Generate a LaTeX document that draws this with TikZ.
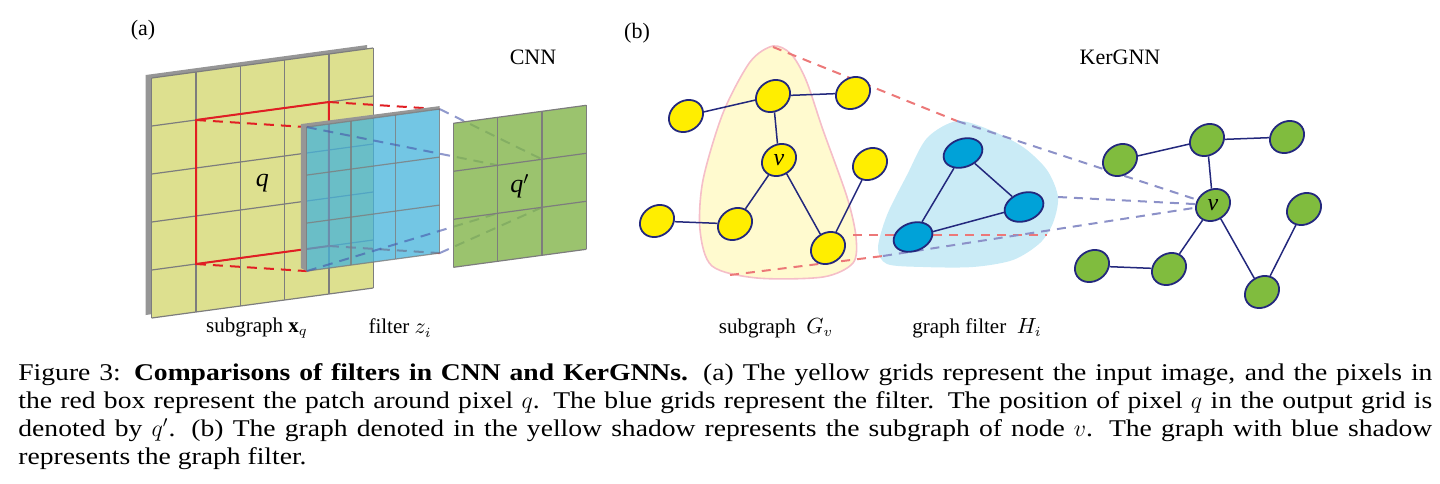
\documentclass[tikz,border=0pt]{standalone}
\usepackage{fontspec}
\setmainfont{Liberation Serif}
\newfontfamily\capfont[FakeStretch=1.15]{Liberation Serif}
\usetikzlibrary{shapes.geometric}

\definecolor{gridyellow}{RGB}{221,224,143}
\definecolor{gridgreen}{RGB}{130,180,74}
\definecolor{filterblue}{RGB}{68,179,219}
\definecolor{slabgray}{RGB}{150,150,150}
\definecolor{gridgray}{RGB}{125,125,125}
\definecolor{boxred}{RGB}{225,30,35}
\definecolor{dashblue}{RGB}{70,85,170}
\definecolor{shadowred}{RGB}{236,120,120}
\definecolor{shadowblue}{RGB}{140,145,200}
\definecolor{blobyellow}{RGB}{255,250,207}
\definecolor{blobpink}{RGB}{245,190,200}
\definecolor{blobblue}{RGB}{202,235,246}
\definecolor{nodeyellow}{RGB}{255,238,0}
\definecolor{nodegreen}{RGB}{128,188,62}
\definecolor{nodeblue}{RGB}{0,162,216}
\definecolor{navy}{RGB}{35,40,125}

\tikzset{
  panellabel/.style={font=\fontsize{11}{13}\selectfont, inner sep=1pt},
  titlelabel/.style={font=\fontsize{11}{13}\selectfont, inner sep=1pt},
  sublabel/.style={font=\fontsize{10.5}{12}\selectfont, inner sep=1pt},
  slab/.style={fill=slabgray},
  gridline/.style={draw=gridgray, line width=0.6pt},
  redbox/.style={draw=boxred, line width=1pt},
  reddash/.style={draw=boxred, line width=1pt, dash pattern=on 5pt off 3.5pt},
  bluedash/.style={draw=dashblue, line width=1pt, draw opacity=0.6, dash pattern=on 5pt off 3.5pt},
  pinkdash/.style={draw=shadowred, line width=1pt, dash pattern=on 4.5pt off 3.5pt},
  purpledash/.style={draw=shadowblue, line width=1pt, dash pattern=on 4.5pt off 3.5pt},
  gnode/.style={ellipse, draw=navy, line width=0.9pt, inner sep=0pt, minimum width=18pt, minimum height=15pt},
  ynode/.style={gnode, fill=nodeyellow, rotate=35},
  grnode/.style={gnode, fill=nodegreen, rotate=35},
  bnode/.style={gnode, fill=nodeblue, minimum width=20pt, minimum height=14pt, rotate=20},
  vlabel/.style={font=\fontsize{12}{12}\selectfont\itshape, inner sep=0pt},
  edge/.style={draw=navy, line width=0.75pt},
  caption/.style={font=\capfont\fontsize{12}{14}\selectfont, align=left, inner sep=0pt}
}

\begin{document}
\begin{tikzpicture}[x=0.5pt, y=-0.5pt]
\useasboundingbox (0,0) rectangle (1440,483);

% (a) CNN
\node[panellabel] (la) at (143,30) {(a)};
\node[titlelabel] (cnn) at (533,57) {CNN};

\begin{scope}[shift={(151.7,318)}, x={(44.3,-6)}, y={(0,-48)}]
  % input image
  \fill[slab, xshift=-3pt, yshift=1.5pt] (0,0) -- (5,0) -- (5,5) -- (0,5) -- cycle;
  \fill[gridyellow] (0,0) -- (5,0) -- (5,5) -- (0,5) -- cycle;
  \foreach \i in {0,...,5} {
    \draw[gridline] (\i,0) -- (\i,5);
    \draw[gridline] (0,\i) -- (5,\i);
  }
  \coordinate (rBL) at (1,1);
  \coordinate (rBR) at (4,1);
  \coordinate (rTR) at (4,4);
  \coordinate (rTL) at (1,4);
  \coordinate (fBL) at (3.5,0.54);
  \coordinate (fBR) at (6.5,0.54);
  \coordinate (fTR) at (6.5,3.54);
  \coordinate (fTL) at (3.5,3.54);
  \coordinate (oBL) at (7.81,1.205);
  \coordinate (oBR) at (8.81,1.205);
  \coordinate (oTR) at (8.81,2.205);
  \coordinate (oTL) at (7.81,2.205);
  \node[font=\fontsize{13}{13}\selectfont\itshape] (q) at (2.5,2.5) {q};
  \draw[redbox] (rBL) -- (rBR) -- (rTR) -- (rTL) -- cycle;
  \foreach \c in {BL,BR,TR,TL}
    \draw[reddash] (r\c) -- (f\c);
  % filter
  \fill[slab] (fBL) -- ([xshift=-3pt,yshift=1.5pt]fBL) -- ([xshift=-3pt,yshift=1.5pt]fTL)
    -- ([yshift=1.5pt]fTR) -- (fTR) -- (fTL) -- cycle;
  \begin{scope}[shift={(3.5,0.54)}]
    \fill[filterblue, opacity=0.75] (0,0) -- (3,0) -- (3,3) -- (0,3) -- cycle;
    \foreach \i in {0,...,3} {
      \draw[gridline, draw opacity=0.8] (\i,0) -- (\i,3);
      \draw[gridline, draw opacity=0.8] (0,\i) -- (3,\i);
    }
  \end{scope}
  \foreach \c in {BL,BR,TR,TL}
    \draw[bluedash] (f\c) -- (o\c);
  % output
  \begin{scope}[shift={(6.81,0.205)}]
    \fill[gridgreen, opacity=0.8] (0,0) -- (3,0) -- (3,3) -- (0,3) -- cycle;
    \foreach \i in {0,...,3} {
      \draw[gridline] (\i,0) -- (\i,3);
      \draw[gridline] (0,\i) -- (3,\i);
    }
  \end{scope}
  \node[font=\fontsize{13}{13}\selectfont\itshape] (qp) at (8.31,1.705) {q$'$};
\end{scope}

\node[sublabel] (xq) at (257,328) {subgraph $\mathbf{x}_q$};
\node[sublabel] (zi) at (400,328) {filter $z_i$};

% (b) KerGNN
\node[panellabel] (lb) at (637,33) {(b)};
\node[titlelabel] (kergnn) at (1120,57) {KerGNN};

\draw[draw=blobpink, fill=blobyellow, line width=0.8pt] plot[smooth cycle] coordinates {
  (773,46) (791,54) (806,80) (823,130) (847,197) (856,237) (853,263) (823,277)
  (757,278) (712,266) (700,230) (703,180) (723,113) (750,62)};
\fill[blobblue] plot[smooth cycle] coordinates {
  (957,121) (990,130) (1023,147) (1047,170) (1058,197) (1053,223) (1040,243) (1013,260)
  (973,267) (923,267) (887,264) (878,248) (887,215) (907,175) (927,138)};

\coordinate (ytop) at (773,47);
\coordinate (ybot) at (730,275);
\coordinate (yright) at (853,235);
\coordinate (btop) at (957,121);
\coordinate (bbot) at (883,256);
\coordinate (bright) at (1047,235);
\coordinate (bside) at (1058,197);
\coordinate (gvc) at (1213,205);

\draw[pinkdash] (ytop) -- (btop);
\draw[pinkdash] (ybot) -- (bbot);
\draw[pinkdash] (yright) -- (bright);
\draw[purpledash] (btop) -- (gvc);
\draw[purpledash] (bside) -- (gvc);
\draw[purpledash] (bbot) -- (gvc);

% subgraph
\node[ynode] (ya) at (686,116) {};
\node[ynode] (yb) at (773,96) {};
\node[ynode] (yc) at (853,93) {};
\node[ynode] (yv) at (779,160) {};
\node[ynode] (ye) at (870,164) {};
\node[ynode] (yf) at (657,221) {};
\node[ynode] (yg) at (735,224) {};
\node[ynode] (yh) at (828,248) {};
\node[vlabel] (yvl) at (yv) {v};

% graph filter
\node[bnode] (ba) at (963,153) {};
\node[bnode] (bb) at (1024,207) {};
\node[bnode] (bc) at (913,237) {};

% output graph
\node[grnode] (ga) at (1120,160) {};
\node[grnode] (gb) at (1207,140) {};
\node[grnode] (gc) at (1287,137) {};
\node[grnode] (gv) at (1213,205) {};
\node[grnode] (ge) at (1304,209) {};
\node[grnode] (gf) at (1092,266) {};
\node[grnode] (gg) at (1169,269) {};
\node[grnode] (gh) at (1262,292) {};
\node[vlabel] (gvl) at (gv) {v};

\foreach \s/\t in {a/b, b/c, b/v, v/g, g/f, v/h, h/e} {
  \draw[edge] (y\s) -- (y\t);
  \draw[edge] (g\s) -- (g\t);
}
\draw[edge] (ba) -- (bb) -- (bc) -- (ba);

\node[sublabel] (gvlab) at (776,328) {subgraph~~$G_v$};
\node[sublabel] (hilab) at (977,328) {graph filter~~$H_i$};

% caption
\node[caption, anchor=north west] (cap) at (18,360.4) {%
  \makebox[707pt][s]{\strut Figure 3: \textbf{Comparisons of filters in CNN and KerGNNs.} (a) The yellow grids represent the input image, and the pixels in}\\
  \makebox[707pt][s]{the red box represent the patch around pixel $q$. The blue grids represent the filter. The position of pixel $q$ in the output grid is}\\
  \makebox[707pt][s]{denoted by $q'$. (b) The graph denoted in the yellow shadow represents the subgraph of node $v$. The graph with blue shadow}\\
  represents the graph filter.};
\end{tikzpicture}
\end{document}
